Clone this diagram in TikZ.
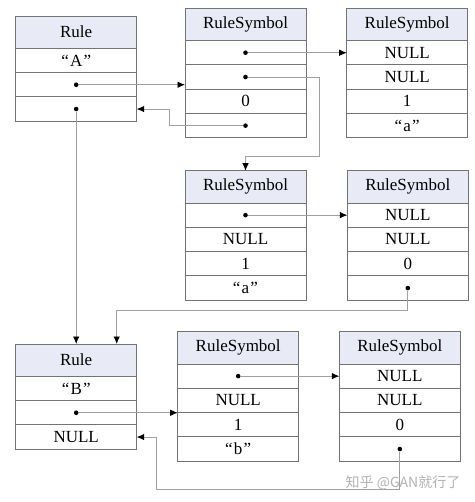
\documentclass[tikz,border=0pt]{standalone}
\usepackage{fontspec}
\setmainfont{Liberation Serif}
\newfontfamily\cjk{Noto Sans CJK SC}
\usetikzlibrary{arrows.meta}
\definecolor{hdrfill}{RGB}{232,235,245}
\definecolor{boxline}{RGB}{115,115,115}
\definecolor{connline}{RGB}{160,160,160}
\newcommand\qt[1]{“\kern1.2pt#1\kern1.2pt”}
\begin{document}
\begin{tikzpicture}[x=1pt,y=-1pt,
 cell/.style={draw=boxline, line width=0.9pt, minimum width=121pt, minimum height=24.3pt, inner sep=0pt, outer sep=0pt, anchor=north west, font=\fontsize{17}{19}\selectfont},
 hdr/.style={cell, fill=hdrfill, minimum height=32.3pt},
 dotmark/.style={circle, fill=black, inner sep=0pt, minimum size=4.6pt},
 conn/.style={draw=connline, line width=0.8pt},
 arr/.style={conn, -{Latex[black,length=7.5pt,width=6.5pt]}}
]
\useasboundingbox (0,0) rectangle (474,502);
% Rule A
\node[hdr] (RAh) at (15.7,16) {Rule};
\node[cell] (RA1) at (RAh.south west) {\qt{A}};
\node[cell] (RA2) at (RA1.south west) {};
\node[cell] (RA3) at (RA2.south west) {};
\node[dotmark] (RA2d) at (RA2.center) {};
\node[dotmark] (RA3d) at (RA3.center) {};
% RuleSymbol 1
\node[hdr] (S1h) at (185,8.3) {RuleSymbol};
\node[cell] (S1r1) at (S1h.south west) {};
\node[cell] (S1r2) at (S1r1.south west) {};
\node[cell] (S1r3) at (S1r2.south west) {0};
\node[cell] (S1r4) at (S1r3.south west) {};
\node[dotmark] (S1d1) at (S1r1.center) {};
\node[dotmark] (S1d2) at (S1r2.center) {};
\node[dotmark] (S1d4) at (S1r4.center) {};
% RuleSymbol 2
\node[hdr] (S2h) at (346.7,8.3) {RuleSymbol};
\node[cell] (S2r1) at (S2h.south west) {NULL};
\node[cell] (S2r2) at (S2r1.south west) {NULL};
\node[cell] (S2r3) at (S2r2.south west) {1};
\node[cell] (S2r4) at (S2r3.south west) {\qt{a}};
% RuleSymbol 3
\node[hdr] (S3h) at (185,170.7) {RuleSymbol};
\node[cell] (S3r1) at (S3h.south west) {};
\node[cell] (S3r2) at (S3r1.south west) {NULL};
\node[cell] (S3r3) at (S3r2.south west) {1};
\node[cell] (S3r4) at (S3r3.south west) {\qt{a}};
\node[dotmark] (S3d1) at (S3r1.center) {};
% RuleSymbol 4
\node[hdr] (S4h) at (347.3,170.7) {RuleSymbol};
\node[cell] (S4r1) at (S4h.south west) {NULL};
\node[cell] (S4r2) at (S4r1.south west) {NULL};
\node[cell] (S4r3) at (S4r2.south west) {0};
\node[cell] (S4r4) at (S4r3.south west) {};
\node[dotmark] (S4d4) at (S4r4.center) {};
% Rule B
\node[hdr] (RBh) at (15.7,344) {Rule};
\node[cell] (RB1) at (RBh.south west) {\qt{B}};
\node[cell] (RB2) at (RB1.south west) {};
\node[cell] (RB3) at (RB2.south west) {NULL};
\node[dotmark] (RB2d) at (RB2.center) {};
% RuleSymbol 5
\node[hdr] (S5h) at (177.7,331.7) {RuleSymbol};
\node[cell] (S5r1) at (S5h.south west) {};
\node[cell] (S5r2) at (S5r1.south west) {NULL};
\node[cell] (S5r3) at (S5r2.south west) {1};
\node[cell] (S5r4) at (S5r3.south west) {\qt{b}};
\node[dotmark] (S5d1) at (S5r1.center) {};
% RuleSymbol 6
\node[hdr] (S6h) at (339.3,331.7) {RuleSymbol};
\node[cell] (S6r1) at (S6h.south west) {NULL};
\node[cell] (S6r2) at (S6r1.south west) {NULL};
\node[cell] (S6r3) at (S6r2.south west) {0};
\node[cell] (S6r4) at (S6r3.south west) {};
\node[dotmark] (S6d4) at (S6r4.center) {};
% connectors
\coordinate (k1) at (319.3,156.7);
\coordinate (k2) at ([xshift=32.6pt]RA3.east);
\coordinate (k3) at (116.7,310);
\coordinate (k4) at (156.7,489.3);
\draw[arr] (RA2d) -- (RA2d -| S1r2.west);
\draw[arr] (S1d1) -- (S1d1 -| S2r1.west);
\draw[arr] (S1d2) -| (k1) -| (S3h.north);
\draw[arr] (S1d4) -| (k2) -- (RA3.east);
\draw[arr] (RA3d) -- (RA3d |- RBh.north);
\draw[arr] (S3d1) -- (S3d1 -| S4r1.west);
\draw[arr] (S4d4) |- (k3) -- (k3 |- RBh.north);
\draw[arr] (RB2d) -- (RB2d -| S5r2.west);
\draw[arr] (S5d1) -- (S5d1 -| S6r1.west);
\draw[arr] (S6d4) |- (k4) |- (RB3.east);
% watermark
\node[text=black!30, font=\cjk\fontsize{14}{16}\selectfont] (wm) at (403,483) {知乎 @GAN就行了};
\end{tikzpicture}
\end{document}
